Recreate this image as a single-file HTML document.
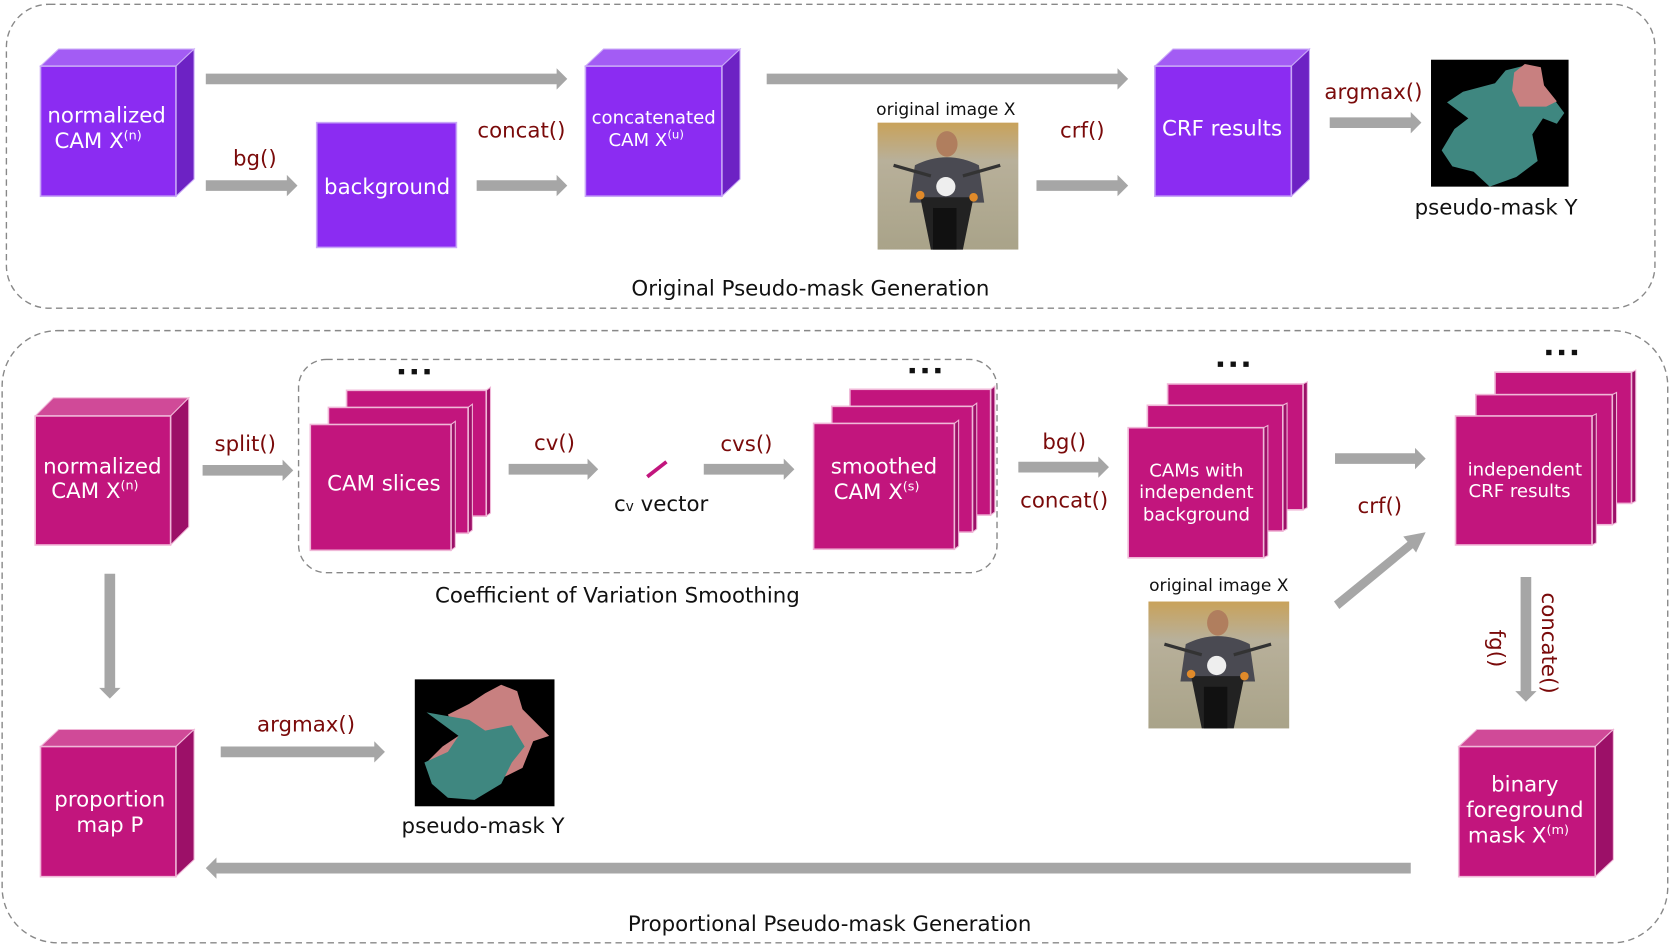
<!DOCTYPE html>
<html><head><meta charset="utf-8"><style>
html,body{margin:0;padding:0;background:#fff;}
svg{display:block;}
text{font-family:"DejaVu Sans","Liberation Sans",sans-serif;}
.w{fill:#fff;font-size:20px;text-anchor:middle;}
.r{fill:#7a0a0a;font-size:20px;text-anchor:middle;}
.k{fill:#111;font-size:20px;text-anchor:middle;}
.a{fill:#a6a6a6;}
.fp{fill:#8b2cf2;stroke:#c9a8f7;stroke-width:1.5}
.tp{fill:#a35cf4;stroke:#c9a8f7;stroke-width:1}
.sp{fill:#6d22c4;stroke:#c9a8f7;stroke-width:1}
.fm{fill:#c2157d;stroke:#f0b8d8;stroke-width:1.5}
.tm{fill:#d04a98;stroke:#f0b8d8;stroke-width:1}
.sm{fill:#9c1068;stroke:#f0b8d8;stroke-width:1}
</style></head><body>
<svg width="1672" height="946" viewBox="0 0 1568 887" preserveAspectRatio="none" xmlns="http://www.w3.org/2000/svg">
<defs>
<linearGradient id="ph" x1="0" y1="0" x2="0" y2="1">
<stop offset="0" stop-color="#c9a25a"/><stop offset="0.3" stop-color="#b8b09a"/><stop offset="1" stop-color="#a9a389"/>
</linearGradient>
<g id="photo">
<rect x="0" y="0" width="132" height="119" fill="url(#ph)"/>
<ellipse cx="65" cy="20" rx="10" ry="12" fill="#b07e5e"/>
<path d="M35 40 Q65 25 95 40 L100 75 L30 75 Z" fill="#4a4a52"/>
<path d="M40 70 L90 70 L80 119 L50 119 Z" fill="#222"/>
<circle cx="64" cy="60" r="9" fill="#eee"/>
<circle cx="40" cy="68" r="4" fill="#e08a2a"/><circle cx="90" cy="70" r="4" fill="#e08a2a"/>
<rect x="52" y="80" width="22" height="39" fill="#111"/>
<path d="M15 40 L50 50 M115 40 L80 50" stroke="#333" stroke-width="3"/>
</g>
<g id="mask">
<path d="M30 30 L60 22 L70 10 L90 5 L95 20 L110 30 L125 50 L118 60 L105 55 L95 70 L100 95 L80 110 L55 119 L40 105 L20 100 L10 85 L22 65 L35 55 L15 40 Z" fill="#3f8780"/>
</g>
</defs>

<rect x="6" y="4" width="1546" height="285" rx="40" fill="none" stroke="#888" stroke-width="1.3" stroke-dasharray="6,4"/>
<rect x="2" y="310" width="1562" height="574" rx="52" fill="none" stroke="#888" stroke-width="1.3" stroke-dasharray="6,4"/>
<rect x="280" y="337" width="655" height="200" rx="26" fill="none" stroke="#888" stroke-width="1.3" stroke-dasharray="6,4"/>

<polygon class="tp" points="38,62 55,46 182,46 165,62"/>
<polygon class="sp" points="165,62 182,46 182,168 165,184"/>
<rect class="fp" x="38" y="62" width="127" height="122"/>
<text class="w" x="100" y="115">normalized</text>
<text class="w" x="92" y="139">CAM X<tspan font-size="12" dy="-8">(n)</tspan></text>

<rect class="fp" x="297" y="115" width="131" height="117"/>
<text class="w" x="363" y="182">background</text>

<polygon class="tp" points="549,62 566,46 694,46 677,62"/>
<polygon class="sp" points="677,62 694,46 694,168 677,184"/>
<rect class="fp" x="549" y="62" width="128" height="122"/>
<text class="w" x="613" y="116" style="font-size:17px">concatenated</text>
<text class="w" x="606" y="137" style="font-size:17px">CAM X<tspan font-size="11" dy="-7">(u)</tspan></text>

<polygon class="tp" points="1083,62 1100,46 1228,46 1211,62"/>
<polygon class="sp" points="1211,62 1228,46 1228,168 1211,184"/>
<rect class="fp" x="1083" y="62" width="128" height="122"/>
<text class="w" x="1146" y="127">CRF results</text>

<polygon class="a" points="193,69 522,69 522,64 532,74 522,84 522,79 193,79"/>
<polygon class="a" points="193,169 269,169 269,164 279,174 269,184 269,179 193,179"/>
<polygon class="a" points="447,169 522,169 522,164 532,174 522,184 522,179 447,179"/>
<polygon class="a" points="719,69 1048,69 1048,64 1058,74 1048,84 1048,79 719,79"/>
<polygon class="a" points="972,169 1048,169 1048,164 1058,174 1048,184 1048,179 972,179"/>
<polygon class="a" points="1247,110 1323,110 1323,105 1333,115 1323,125 1323,120 1247,120"/>

<text class="r" x="239" y="155">bg()</text>
<text class="r" x="489" y="129">concat()</text>
<text class="r" x="1015" y="129">crf()</text>
<text class="r" x="1288" y="93">argmax()</text>

<text class="k" x="887" y="108" style="font-size:16px">original image X</text>
<use href="#photo" x="823" y="115"/>
<rect x="1342" y="56" width="129" height="119" fill="#000"/>
<use href="#mask" x="1342" y="56"/>
<path d="M1420 68 L1430 60 L1445 63 L1448 80 L1460 95 L1450 100 L1425 100 L1418 85 Z" fill="#c88080"/>
<text class="k" x="1403" y="201">pseudo-mask Y</text>
<text class="k" x="760" y="277">Original Pseudo-mask Generation</text>

<polygon class="tm" points="33,390 50,373 177,373 160,390"/>
<polygon class="sm" points="160,390 177,373 177,494 160,511"/>
<rect class="fm" x="33" y="390" width="127" height="121"/>
<text class="w" x="96" y="444">normalized</text>
<text class="w" x="89" y="467">CAM X<tspan font-size="12" dy="-8">(n)</tspan></text>

<text class="r" x="230" y="423">split()</text>
<polygon class="a" points="190,436 265,436 265,431 275,441 265,451 265,446 190,446"/>

<g>
<polygon class="sm" points="456,366 460,363 460,481 456,484"/><rect class="fm" x="325" y="366" width="131" height="118"/>
<polygon class="sm" points="439,382 443,379 443,497 439,500"/><rect class="fm" x="308" y="382" width="131" height="118"/>
<polygon class="sm" points="423,398 427,395 427,513 423,516"/><rect class="fm" x="291" y="398" width="132" height="118"/>
</g>
<text class="w" x="360" y="460">CAM slices</text>
<rect x="374" y="346" width="5" height="5" fill="#111"/><rect x="386" y="346" width="5" height="5" fill="#111"/><rect x="398" y="346" width="5" height="5" fill="#111"/>

<text class="r" x="520" y="422">cv()</text>
<polygon class="a" points="477,435 551,435 551,430 561,440 551,450 551,445 477,445"/>
<line x1="607" y1="447" x2="625" y2="433" stroke="#c2157d" stroke-width="3.5"/>
<text class="k" x="620" y="479">c<tspan font-size="13">v</tspan> vector</text>
<text class="r" x="700" y="423">cvs()</text>
<polygon class="a" points="660,435 735,435 735,430 745,440 735,450 735,445 660,445"/>

<g>
<polygon class="sm" points="929,365 933,362 933,480 929,483"/><rect class="fm" x="797" y="365" width="132" height="118"/>
<polygon class="sm" points="912,381 916,378 916,496 912,499"/><rect class="fm" x="780" y="381" width="132" height="118"/>
<polygon class="sm" points="895,397 899,394 899,512 895,515"/><rect class="fm" x="763" y="397" width="132" height="118"/>
</g>
<text class="w" x="829" y="444">smoothed</text>
<text class="w" x="822" y="468">CAM X<tspan font-size="12" dy="-8">(s)</tspan></text>
<rect x="853" y="345" width="5" height="5" fill="#111"/><rect x="865" y="345" width="5" height="5" fill="#111"/><rect x="877" y="345" width="5" height="5" fill="#111"/>
<text class="k" x="579" y="565">Coefficient of Variation Smoothing</text>

<text class="r" x="998" y="421">bg()</text>
<text class="r" x="998" y="476">concat()</text>
<polygon class="a" points="955,433 1030,433 1030,428 1040,438 1030,448 1030,443 955,443"/>

<g>
<polygon class="sm" points="1222,360 1226,358 1226,476 1222,478"/><rect class="fm" x="1095" y="360" width="127" height="118"/>
<polygon class="sm" points="1203,380 1207,378 1207,496 1203,498"/><rect class="fm" x="1076" y="380" width="127" height="118"/>
<polygon class="sm" points="1185,401 1189,399 1189,521 1185,523"/><rect class="fm" x="1058" y="401" width="127" height="122"/>
</g>
<text class="w" x="1122" y="447" style="font-size:17px">CAMs with</text>
<text class="w" x="1122" y="467" style="font-size:17px">independent</text>
<text class="w" x="1122" y="488" style="font-size:17px">background</text>
<rect x="1142" y="339" width="5" height="5" fill="#111"/><rect x="1154" y="339" width="5" height="5" fill="#111"/><rect x="1166" y="339" width="5" height="5" fill="#111"/>

<polygon class="a" points="1252,425 1327,425 1327,420 1337,430 1327,440 1327,435 1252,435"/>
<text class="r" x="1294" y="481">crf()</text>
<polygon class="a" points="1251,564 1320,508 1316,503 1337,499 1328,518 1325,514 1256,571"/>

<text class="k" x="1143" y="554" style="font-size:16px">original image X</text>
<use href="#photo" x="1077" y="564"/>

<g>
<polygon class="sm" points="1530,349 1534,347 1534,470 1530,472"/><rect class="fm" x="1402" y="349" width="128" height="123"/>
<polygon class="sm" points="1512,370 1516,368 1516,490 1512,492"/><rect class="fm" x="1384" y="370" width="128" height="122"/>
<polygon class="sm" points="1493,390 1497,388 1497,509 1493,511"/><rect class="fm" x="1365" y="390" width="128" height="121"/>
</g>
<text class="w" x="1430" y="446" style="font-size:17px">independent</text>
<text class="w" x="1425" y="466" style="font-size:17px">CRF results</text>
<rect x="1450" y="328" width="5" height="5" fill="#111"/><rect x="1462" y="328" width="5" height="5" fill="#111"/><rect x="1474" y="328" width="5" height="5" fill="#111"/>

<polygon class="a" points="1426,541 1436,541 1436,648 1441,648 1431,658 1421,648 1426,648"/>
<text class="r" transform="translate(1397,608) rotate(90)">fg()</text>
<text class="r" transform="translate(1446,603) rotate(90)">concate()</text>

<polygon class="tm" points="1368,700 1385,684 1513,684 1496,700"/>
<polygon class="sm" points="1496,700 1513,684 1513,806 1496,822"/>
<rect class="fm" x="1368" y="700" width="128" height="122"/>
<text class="w" x="1430" y="742">binary</text>
<text class="w" x="1430" y="766">foreground</text>
<text class="w" x="1424" y="790">mask X<tspan font-size="12" dy="-8">(m)</tspan></text>

<polygon class="a" points="1323,809 203,809 203,804 193,814 203,824 203,819 1323,819"/>

<polygon class="a" points="98,538 108,538 108,645 113,645 103,655 93,645 98,645"/>

<polygon class="tm" points="38,700 55,684 182,684 165,700"/>
<polygon class="sm" points="165,700 182,684 182,806 165,822"/>
<rect class="fm" x="38" y="700" width="127" height="122"/>
<text class="w" x="103" y="756">proportion</text>
<text class="w" x="103" y="780">map P</text>

<text class="r" x="287" y="686">argmax()</text>
<polygon class="a" points="207,700 351,700 351,695 361,705 351,715 351,710 207,710"/>
<rect x="389" y="637" width="131" height="119" fill="#000"/>
<path d="M440 660 L455 650 L470 642 L485 648 L490 665 L505 680 L515 690 L500 695 L490 720 L470 730 L460 735 L440 745 L425 740 L410 730 L400 715 L415 700 L430 690 L420 670 Z" fill="#c88080"/>
<path d="M400 668 L440 675 L455 685 L480 680 L492 700 L480 715 L470 735 L445 750 L420 748 L405 735 L398 715 L420 705 L430 690 Z" fill="#3f8780"/>
<text class="k" x="453" y="781">pseudo-mask Y</text>

<text class="k" x="778" y="873">Proportional Pseudo-mask Generation</text>
</svg>
</body></html>
